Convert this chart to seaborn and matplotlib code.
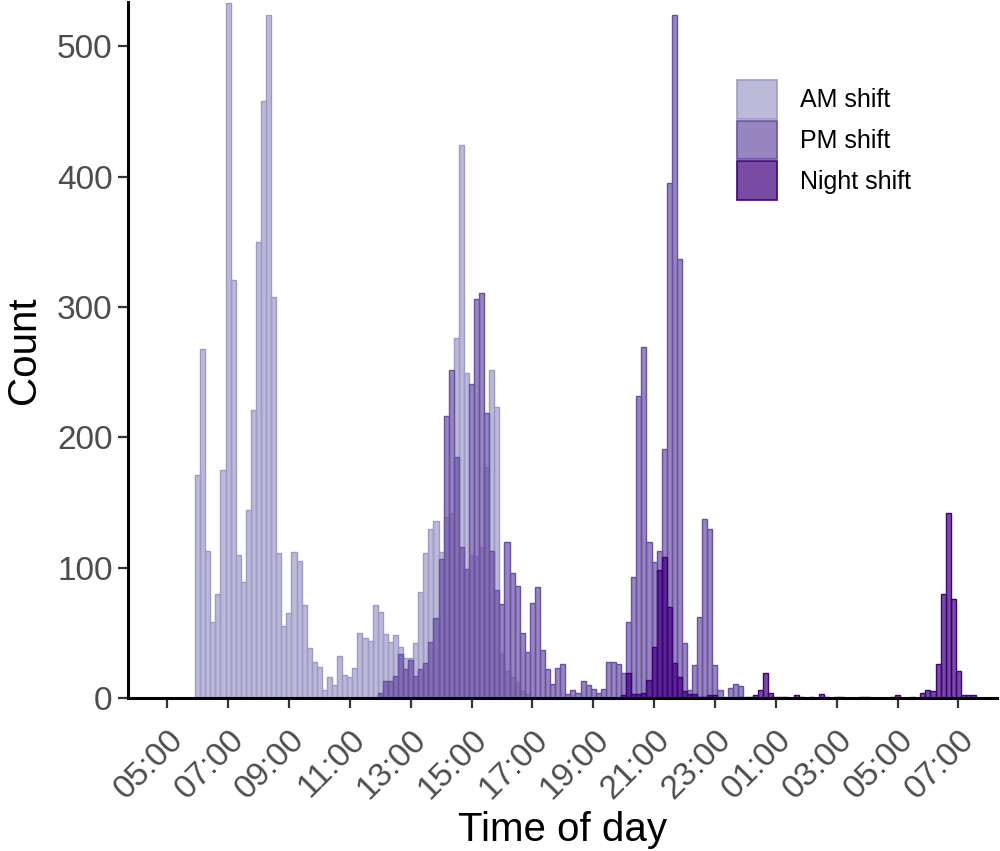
import numpy as np
import pandas as pd
import matplotlib
matplotlib.use("Agg")
import matplotlib.pyplot as plt
import seaborn as sns
from matplotlib.colors import to_rgba
from matplotlib.patches import Patch

# ---------------- data (10-minute bins, counts) ----------------
shift_names = ["AM shift", "PM shift", "Night shift"]

am_start = "06:00"
am_counts = [171, 268, 113, 58, 80, 175, 533, 321, 110, 89, 144, 221,
             350, 458, 524, 308, 111, 55, 65, 112, 105, 71, 38, 28,
             24, 6, 16, 10, 32, 18, 16, 23, 50, 46, 44, 71,
             66, 49, 43, 48, 39, 31, 31, 42, 81, 111, 130, 136,
             112, 139, 142, 276, 424, 249, 110, 109, 116, 177, 252, 223,
             34, 21, 16, 12, 5, 3]

pm_start = "12:00"
pm_counts = [4, 13, 13, 17, 34, 22, 29, 17, 22, 27, 43, 61,
             107, 216, 252, 185, 116, 99, 241, 306, 311, 219, 113, 83,
             72, 120, 96, 86, 50, 35, 73, 85, 37, 22, 11, 23,
             26, 3, 6, 4, 13, 10, 7, 4, 7, 28, 28, 26,
             19, 58, 93, 232, 269, 120, 104, 113, 191, 395, 524, 337,
             42, 6, 25, 62, 137, 130, 25, 6, 1, 8, 11, 9,
             1]

night_start = "20:00"
night_counts = [2, 19, 3, 3, 4, 14, 39, 98, 108, 70, 27, 16,
                5, 3, 3, 1, 1, 2, 2, 0, 0, 0, 0, 1,
                0, 1, 2, 6, 19, 4, 1, 1, 1, 0, 2, 1,
                0, 1, 0, 3, 1, 0, 1, 1, 0, 0, 0, 1,
                1, 0, 0, 0, 0, 1, 2, 0, 0, 1, 0, 4,
                6, 5, 26, 80, 142, 76, 21, 2, 2, 2]

tick_labels = ["05:00", "07:00", "09:00", "11:00", "13:00", "15:00", "17:00",
               "19:00", "21:00", "23:00", "01:00", "03:00", "05:00", "07:00"]
tick_hours = [5, 7, 9, 11, 13, 15, 17, 19, 21, 23, 25, 27, 29, 31]

face_colors = ["#9E9AC8", "#6A51A3", "#3F007D"]
edge_colors = ["#9E9AC8", "#6A51A3", "#3F007D"]

# ---------------- build long table ----------------
def hours(s):
    h, m = s.split(":")
    return int(h) + int(m) / 60.0

BIN = 1.0 / 6.0
frames = []
for name, start, counts in zip(shift_names, [am_start, pm_start, night_start],
                               [am_counts, pm_counts, night_counts]):
    t0 = hours(start)
    centers = t0 + np.arange(len(counts)) * BIN
    frames.append(pd.DataFrame({"shift": name, "time": centers, "count": counts}))
df = pd.concat(frames, ignore_index=True)

edges = [float(e) for e in np.arange(hours(am_start) - BIN / 2, df["time"].max() + BIN, BIN)]

# ---------------- plot ----------------
sns.set_theme(style="ticks")
plt.rcParams["font.family"] = ["Liberation Sans", "DejaVu Sans"]

fig = plt.figure(figsize=(10, 8.51), dpi=100)
ax = fig.add_axes([0.128, 1 - 698 / 851, 0.997 - 0.128, 696 / 851])

for i, name in enumerate(shift_names):
    sub = df[df["shift"] == name]
    sns.histplot(data=sub, x="time", weights="count", bins=edges, ax=ax,
                 color=face_colors[i], stat="count", element="bars")
    cont = ax.containers[-1]
    for p in cont:
        p.set_alpha(None)
        p.set_facecolor(to_rgba(face_colors[i], 0.7))
        p.set_edgecolor(edge_colors[i])
        p.set_linewidth(1.0)

ax.set_xlim(3.71, 32.27)
ax.set_ylim(0, 534)
ax.set_xticks(tick_hours)
ax.set_xticklabels(tick_labels, rotation=45, ha="right", rotation_mode="anchor")
ax.set_yticks([0, 100, 200, 300, 400, 500])
ax.tick_params(axis="both", labelsize=24, colors="#4D4D4D", length=7, width=1.6)
ax.tick_params(axis="both", color="#333333")
ax.tick_params(axis="y", pad=4)
ax.tick_params(axis="x", pad=12)
ax.set_xlabel("Time of day", fontsize=29, color="black", labelpad=4)
ax.set_ylabel("Count", fontsize=29, color="black", labelpad=10)
for side in ["left", "bottom"]:
    ax.spines[side].set_linewidth(2.2)
    ax.spines[side].set_color("black")
for side in ["top", "right"]:
    ax.spines[side].set_visible(False)

handles = [Patch(facecolor=to_rgba(face_colors[i], 0.7), edgecolor=edge_colors[i],
                 linewidth=1.2, label=shift_names[i]) for i in range(3)]
fig.legend(handles=handles, loc="upper left",
           bbox_to_anchor=(737 / 1000, 1 - 80 / 851), frameon=False,
           fontsize=18, labelcolor="black", handlelength=1.6, handleheight=2.0,
           labelspacing=0.08, handletextpad=0.9, borderpad=0, borderaxespad=0)

fig.savefig("out.png", dpi=100)
